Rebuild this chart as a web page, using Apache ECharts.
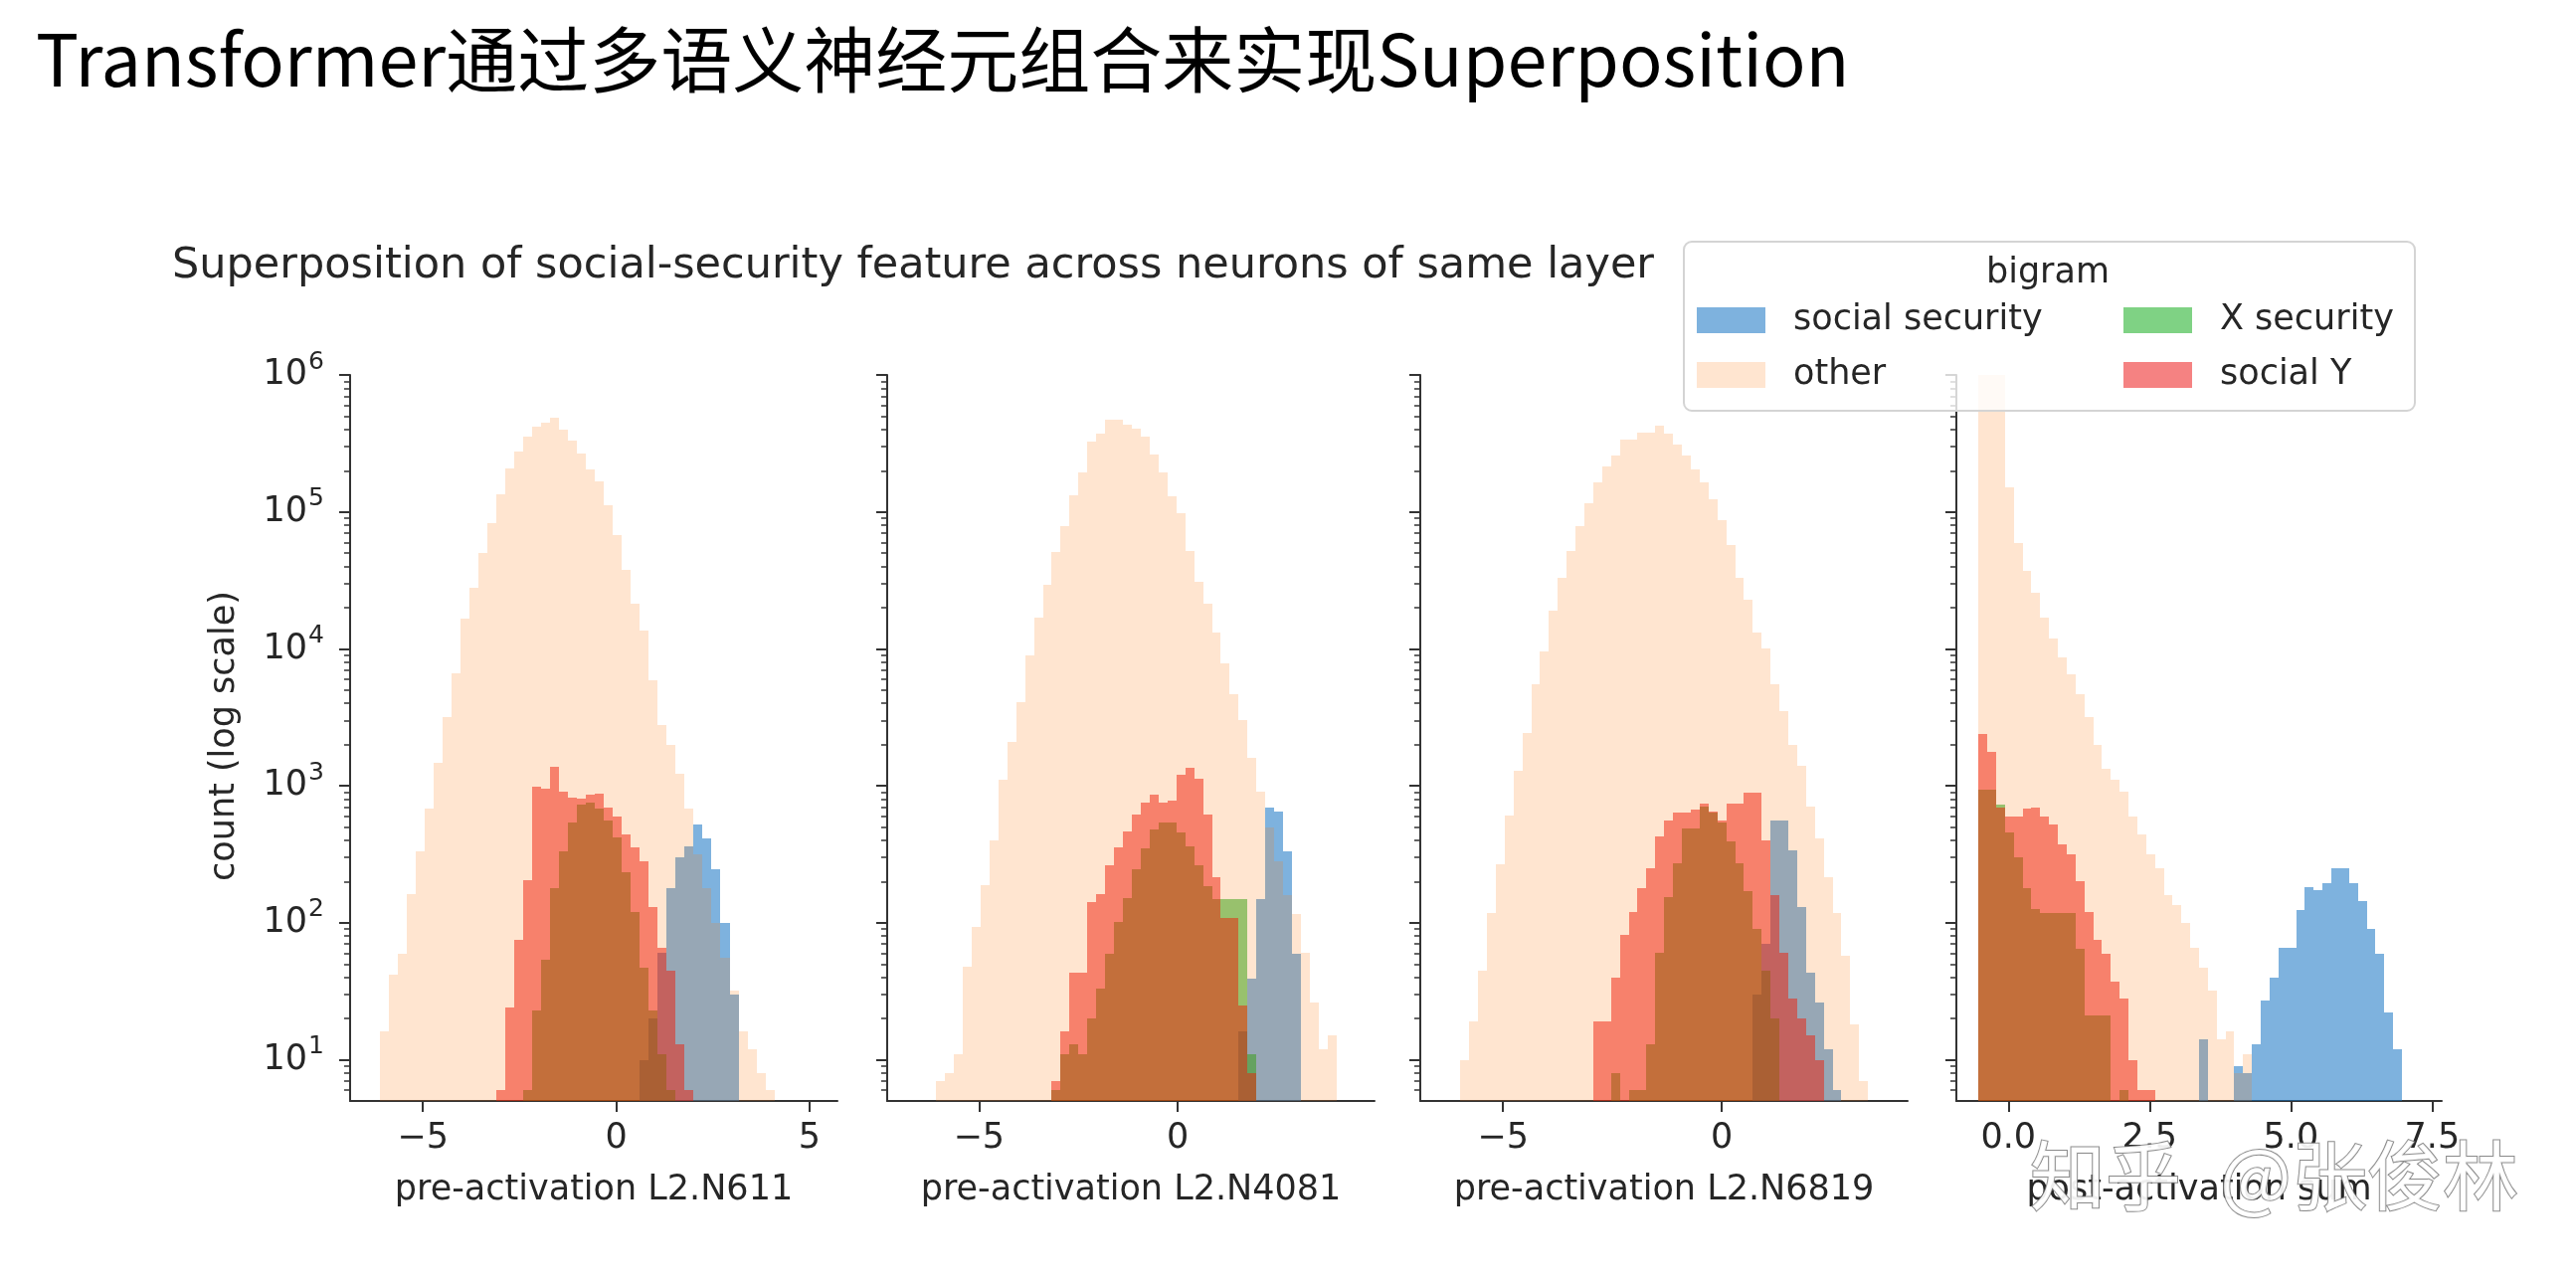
<!DOCTYPE html>
<html><head><meta charset="utf-8">
<script src="https://cdn.jsdelivr.net/npm/echarts@6/dist/echarts.min.js"></script>
<style>html,body{margin:0;padding:0;background:#fff}#c{width:2590px;height:1286px}</style>
</head><body><div id="c"></div>
<script>
// ---------- data ----------
const panelNames = ['pre-activation L2.N611', 'pre-activation L2.N4081', 'pre-activation L2.N6819', 'post-activation sum'];
const binStart = [-6.33, -6.75, -6.38, -0.53];
const binWidth = [0.2315, 0.2238, 0.2026, 0.1562];
const xRange = [[-6.88, 5.72], [-7.31, 4.95], [-6.89, 4.25], [-0.92, 7.67]];
const xTicks = [[-5, 0, 5], [-5, 0], [-5, 0], [0, 2.5, 5, 7.5]];
const yMajorTicks = [10, 100, 1000, 10000, 100000, 1000000];
const Y_MIN = 5, Y_MAX = 1000000;

const p1Other = [0,16,42,59,162,330,680,1480,3200,6600,16600,28000,50000,83000,135000,209000,275000,355000,417000,447000,490000,398000,331000,269000,204000,166000,112000,67600,38000,21400,13500,5900,2800,2000,1230,680,316,178,100,56,32,16,12,8,6,0,0,0,0,0];
const p1SocialY = [0,0,0,0,0,0,0,0,0,0,0,0,0,0,6,24,75,205,980,950,1380,900,820,800,860,870,690,600,440,355,280,130,66,45,13,6,0,0,0,0,0,0,0,0,0,0,0,0,0,0];
const p1XSecurity = [0,0,0,0,0,0,0,0,0,0,0,0,0,0,0,0,0,6,23,54,178,330,540,725,760,680,560,420,235,120,47,23,11,6,0,0,0,0,0,0,0,0,0,0,0,0,0,0,0,0];
const p1SocialSecurity = [0,0,0,0,0,0,0,0,0,0,0,0,0,0,0,0,0,0,0,0,0,0,0,0,0,0,0,0,0,0,10,20,60,180,300,360,520,410,245,100,30,0,0,0,0,0,0,0,0,0];

const p2Other = [0,0,0,7,8,11,48,93,187,400,1100,2100,4100,8900,17000,29500,51000,79000,132000,195000,324000,372000,468000,468000,437000,407000,355000,263000,195000,129000,98000,52000,31000,21400,13200,7800,4700,3000,1600,910,500,280,160,115,60,26,12,15,0,0];
const p2SocialY = [0,0,0,0,0,0,0,0,0,0,0,0,0,0,0,0,7,16,43,43,141,162,263,355,468,617,760,860,760,780,1200,1350,1120,615,215,108,108,25,8,0,0,0,0,0,0,0,0,0,0,0];
const p2XSecurity = [0,0,0,0,0,0,0,0,0,0,0,0,0,0,0,0,6,11,13,11,20,33,59,102,151,245,347,480,540,540,460,360,265,185,150,150,150,150,11,5,0,0,0,0,0,0,0,0,0,0];
const p2SocialSecurity = [0,0,0,0,0,0,0,0,0,0,0,0,0,0,0,0,0,0,0,0,0,0,0,0,0,0,0,0,0,0,0,0,0,0,0,0,0,16,39,148,690,650,330,59,0,0,0,0,0,0];

const p3Other = [0,0,10,19,45,118,267,610,1290,2440,5540,9600,19000,33000,52000,79000,115000,163000,214000,257000,339000,339000,380000,380000,427000,371000,309000,257000,204000,163000,123000,87000,57000,33000,23000,13200,10000,5500,3500,2000,1400,700,410,215,118,57,18,7,0,0];
const p3SocialY = [0,0,0,0,0,0,0,0,0,0,0,0,0,0,0,0,0,19,19,40,82,120,178,250,427,560,640,640,670,740,650,560,740,740,890,890,400,160,60,28,20,15,10,0,0,0,0,0,0,0];
const p3XSecurity = [0,0,0,0,0,0,0,0,0,0,0,0,0,0,0,0,0,0,0,8,0,6,6,13,60,155,270,490,490,710,640,540,390,270,170,90,45,20,0,0,0,0,0,0,0,0,0,0,0,0];
const p3SocialSecurity = [0,0,0,0,0,0,0,0,0,0,0,0,0,0,0,0,0,0,0,0,0,0,0,0,0,0,0,0,0,0,0,0,0,0,0,30,70,560,560,340,130,43,26,12,6,0,0,0,0,0];

const p4Other = [1800000,1600000,1100000,151000,59000,37000,25700,17000,12000,8700,6500,4700,3200,2000,1330,1100,900,600,440,316,250,160,135,100,66,47,32,14,16,8,11,0,0,0,0,0,0,0,0,0,0,0,0,0,0,0,0,0,0,0];
const p4SocialY = [2400,1780,690,600,600,680,690,600,520,375,316,200,120,75,59,37,28,10,6,6,0,0,0,0,0,0,0,0,0,0,0,0,0,0,0,0,0,0,0,0,0,0,0,0,0,0,0,0,0,0];
const p4XSecurity = [930,930,725,460,300,180,125,117,117,117,117,65,21,21,21,0,6,0,0,0,0,0,0,0,0,0,0,0,0,0,0,0,0,0,0,0,0,0,0,0,0,0,0,0,0,0,0,0,0,0];
const p4SocialSecurity = [0,0,0,0,0,0,0,0,0,0,0,0,0,0,0,0,0,0,0,0,0,0,0,0,0,14,0,0,0,9,8,13,27,40,66,66,124,182,172,195,251,251,195,145,90,59,22,12,0,0];

const panelCounts = [
  {'social security': p1SocialSecurity, 'X security': p1XSecurity, 'social Y': p1SocialY, 'other': p1Other},
  {'social security': p2SocialSecurity, 'X security': p2XSecurity, 'social Y': p2SocialY, 'other': p2Other},
  {'social security': p3SocialSecurity, 'X security': p3XSecurity, 'social Y': p3SocialY, 'other': p3Other},
  {'social security': p4SocialSecurity, 'X security': p4XSecurity, 'social Y': p4SocialY, 'other': p4Other}
];

// ---------- styling ----------
const drawOrder = ['social security', 'X security', 'social Y', 'other'];
const colors = {
  'social security': 'rgba(20,115,195,0.55)',
  'X security': 'rgba(0,165,10,0.5)',
  'social Y': 'rgba(235,5,5,0.5)',
  'other': 'rgba(255,125,20,0.2)'
};
const FONT = "'DejaVu Sans', sans-serif";
const TXT = '#262626';
const AX = '#333333';
const panelLeft = [352, 892, 1428, 1967];
const panelWidth = [490, 490, 490, 488];
const GRID_TOP = 377, GRID_H = 730;

const yMinorTicks = [];
for (let e = 0; e <= 5; e++) {
  for (let m = 2; m <= 9; m++) {
    const v = m * Math.pow(10, e);
    if (v > Y_MIN && v < Y_MAX) yMinorTicks.push(v);
  }
}

function toBins(p, counts) {
  const out = [];
  counts.forEach((c, i) => {
    if (c > 0) out.push([binStart[p] + i * binWidth[p], binStart[p] + (i + 1) * binWidth[p], c]);
  });
  return out;
}

function renderBar(params, api) {
  const x0 = api.value(0), x1 = api.value(1), c = api.value(2);
  const pTop = api.coord([x0, c]);
  const pBot = api.coord([x1, Y_MIN]);
  const l = Math.round(pTop[0]), r = Math.round(pBot[0]);
  const t = Math.round(pTop[1]), b = Math.round(pBot[1]);
  const cs = params.coordSys;
  const shape = echarts.graphic.clipRectByRect(
    {x: l, y: t, width: r - l, height: b - t},
    {x: cs.x, y: cs.y, width: cs.width, height: cs.height}
  );
  if (!shape) return;
  return {type: 'rect', shape: shape, style: {fill: api.visual('color')}};
}

const grids = [], xAxes = [], yAxes = [], series = [];
for (let p = 0; p < 4; p++) {
  grids.push({left: panelLeft[p], top: GRID_TOP, width: panelWidth[p], height: GRID_H, containLabel: false, outerBoundsMode: 'none'});
  xAxes.push({
    type: 'value', gridIndex: p, position: 'bottom', min: xRange[p][0], max: xRange[p][1],
    axisLine: {show: true, onZero: false, lineStyle: {color: AX, width: 2}},
    axisTick: {show: true, length: 11, customValues: xTicks[p], lineStyle: {color: AX, width: 2}},
    axisLabel: {
      show: true, customValues: xTicks[p], margin: 20, fontSize: 35, color: TXT, fontFamily: FONT,
      formatter: v => p === 3 ? Number(v).toFixed(1) : (v < 0 ? '\u2212' + (-v) : String(v))
    },
    splitLine: {show: false},
    name: panelNames[p], nameLocation: 'middle', nameGap: 72,
    nameTextStyle: {fontSize: 35, color: TXT, fontFamily: FONT}
  });
  yAxes.push({
    type: 'log', logBase: 10, gridIndex: p, position: 'left', offset: 0, min: Y_MIN, max: Y_MAX,
    axisLine: {show: true, onZero: false, lineStyle: {color: AX, width: 2}},
    axisTick: {show: true, length: 11, customValues: yMajorTicks, lineStyle: {color: AX, width: 2}},
    axisLabel: {
      show: p === 0, customValues: yMajorTicks, margin: 26, color: TXT, fontFamily: FONT,
      formatter: v => '{b|10}{s|' + Math.round(Math.log10(v)) + '}',
      rich: {
        b: {fontSize: 35, color: TXT, fontFamily: FONT},
        s: {fontSize: 25, color: TXT, fontFamily: FONT, padding: [0, 0, 26, 1]}
      }
    },
    splitLine: {show: false}
  });
  yAxes.push({
    type: 'log', logBase: 10, gridIndex: p, position: 'left', offset: 0, min: Y_MIN, max: Y_MAX,
    axisLine: {show: false, onZero: false},
    axisTick: {show: true, length: 6, customValues: yMinorTicks, lineStyle: {color: AX, width: 1.5}},
    axisLabel: {show: false},
    splitLine: {show: false}
  });
  drawOrder.forEach(name => {
    series.push({
      type: 'custom', name: name, xAxisIndex: p, yAxisIndex: 2 * p,
      data: toBins(p, panelCounts[p][name]),
      encode: {x: [0, 1], y: 2},
      renderItem: renderBar,
      itemStyle: {color: colors[name]},
      silent: true
    });
  });
}

const legendText = {fontSize: 35, lineHeight: 40, color: TXT, fontFamily: FONT, padding: [0, 0, 0, 23]};
const option = {
  backgroundColor: '#ffffff',
  animation: false,
  textStyle: {fontFamily: FONT},
  grid: grids, xAxis: xAxes, yAxis: yAxes, series: series,
  legend: [
    {data: ['social security', 'other'], orient: 'vertical', left: 1706, top: 302, padding: 0,
     itemWidth: 69, itemHeight: 26, itemGap: 15, icon: 'rect', selectedMode: false, textStyle: legendText, z: 6},
    {data: ['X security', 'social Y'], orient: 'vertical', left: 2135, top: 302, padding: 0,
     itemWidth: 69, itemHeight: 26, itemGap: 15, icon: 'rect', selectedMode: false, textStyle: legendText, z: 6}
  ],
  graphic: [
    {type: 'text', x: 36, y: 60, z: 10,
     style: {text: 'Transformer通过多语义神经元组合来实现Superposition', fontSize: 72,
             fontFamily: "'Noto Sans CJK SC', sans-serif", fill: '#000000', align: 'left', verticalAlign: 'middle'}},
    {type: 'text', x: 173, y: 268, z: 10,
     style: {text: 'Superposition of social-security feature across neurons of same layer', fontSize: 43,
             fontFamily: FONT, fill: TXT, align: 'left', verticalAlign: 'middle'}},
    {type: 'text', x: 226, y: 740, rotation: Math.PI / 2, z: 10,
     style: {text: 'count (log scale)', fontSize: 35, fontFamily: FONT, fill: TXT, align: 'center', verticalAlign: 'middle'}},
    {type: 'rect', z: 5, shape: {x: 1693, y: 243, width: 735, height: 170, r: 8},
     style: {fill: 'rgba(255,255,255,0.8)', stroke: '#d4d4d4', lineWidth: 2}},
    {type: 'text', x: 2059, y: 275, z: 7,
     style: {text: 'bigram', fontSize: 35, fontFamily: FONT, fill: TXT, align: 'center', verticalAlign: 'middle'}},
    {type: 'text', x: 2041, y: 1182, z: 20,
     style: {text: '知乎', fontSize: 76, fontFamily: "'Noto Sans CJK SC', sans-serif", fill: 'rgba(255,255,255,0.92)',
             stroke: 'rgba(120,120,120,0.85)', lineWidth: 2, align: 'left', verticalAlign: 'middle'}},
    {type: 'text', x: 2232, y: 1182, z: 20,
     style: {text: '@张俊林', fontSize: 76, fontFamily: "'Noto Sans CJK SC', sans-serif", fill: 'rgba(255,255,255,0.92)',
             stroke: 'rgba(120,120,120,0.85)', lineWidth: 2, align: 'left', verticalAlign: 'middle'}}
  ]
};

const chart = echarts.init(document.getElementById('c'), null, {renderer: 'canvas', width: 2590, height: 1286});
chart.setOption(option);
</script></body></html>
